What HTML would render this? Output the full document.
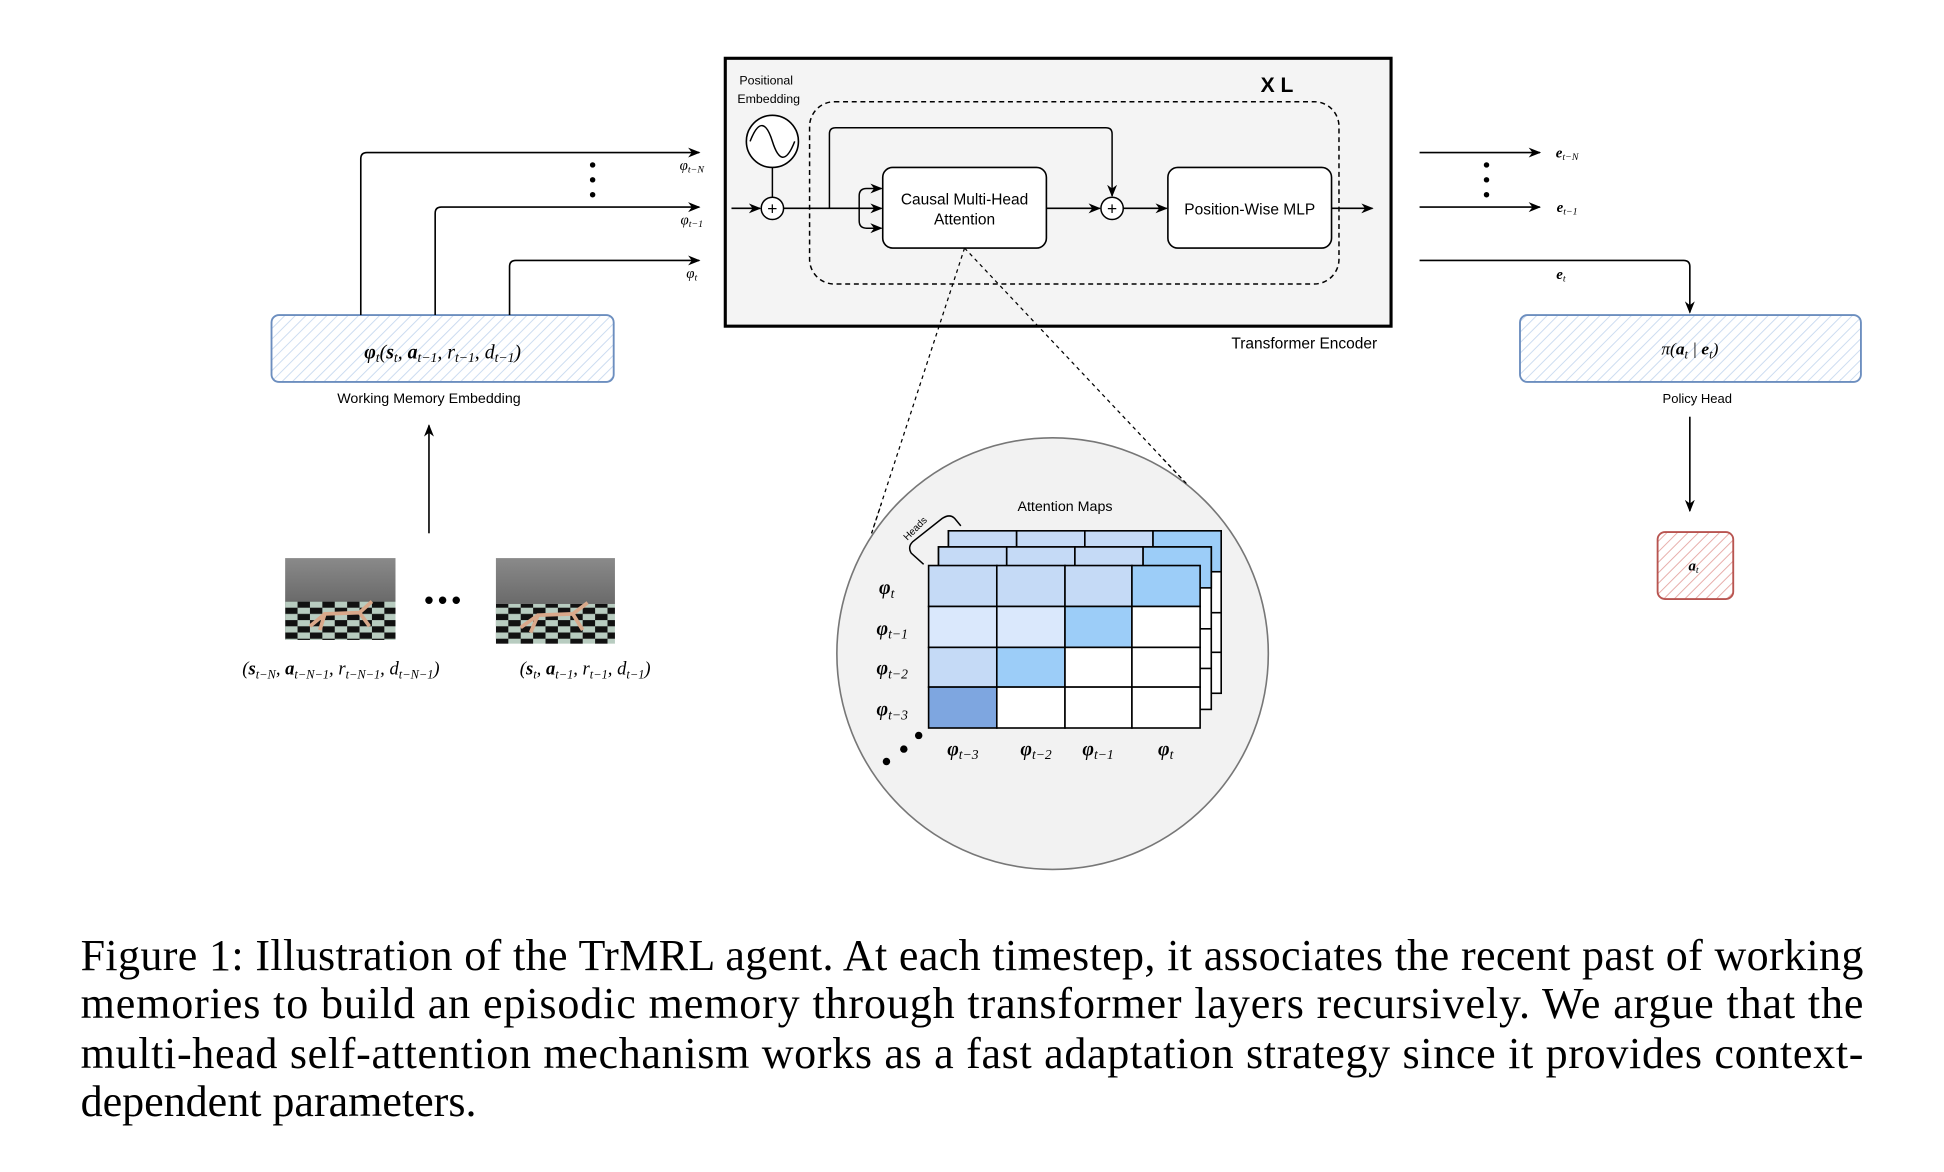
<!DOCTYPE html>
<html><head><meta charset="utf-8"><style>
html,body{margin:0;padding:0;background:#fff;}
svg{display:block;}
.s{font-family:"Liberation Sans",sans-serif;}
.m{font-family:"Liberation Serif",serif;font-style:italic;}
</style></head><body>
<svg width="1944" height="1172" viewBox="0 0 1568 945" preserveAspectRatio="none" xmlns="http://www.w3.org/2000/svg">
<defs>
<marker id="ar" markerWidth="10" markerHeight="10" refX="9" refY="5" orient="auto" markerUnits="userSpaceOnUse">
<path d="M0,1 L10,5 L0,9 L3,5 Z" fill="#000"/></marker>
<pattern id="hb" width="6" height="6" patternUnits="userSpaceOnUse" patternTransform="rotate(45)">
<rect width="6" height="6" fill="#fff"/><line x1="0" y1="0" x2="0" y2="6" stroke="#c9daf0" stroke-width="1.5"/></pattern>
<pattern id="hr" width="6" height="6" patternUnits="userSpaceOnUse" patternTransform="rotate(45)">
<rect width="6" height="6" fill="#fff"/><line x1="0" y1="0" x2="0" y2="6" stroke="#e6a9a6" stroke-width="1.5"/></pattern>
<linearGradient id="sky" x1="0" y1="0" x2="0" y2="1"><stop offset="0" stop-color="#8a8a8a"/><stop offset="1" stop-color="#6a6a6a"/></linearGradient>
<pattern id="chk" width="20" height="10" patternUnits="userSpaceOnUse"><rect width="20" height="10" fill="#111"/><rect width="10" height="5" fill="#b8ccc0"/><rect x="10" y="5" width="10" height="5" fill="#b8ccc0"/></pattern>
</defs>

<!-- Transformer encoder -->
<rect x="585" y="47" width="537" height="216" fill="#f4f4f4" stroke="#000" stroke-width="2.5"/>
<text class="s" x="618" y="68" font-size="10" text-anchor="middle">Positional</text>
<text class="s" x="620" y="83" font-size="10" text-anchor="middle">Embedding</text>
<circle cx="623" cy="114" r="21" fill="#fff" stroke="#000" stroke-width="1.3"/>
<path d="M605,114 C612,96 618,98 623,114 C628,130 634,132 641,114" fill="none" stroke="#000" stroke-width="1.2"/>
<line x1="623" y1="135" x2="623" y2="159" stroke="#000" stroke-width="1.2"/>
<rect x="653" y="82" width="427" height="147" rx="20" fill="none" stroke="#000" stroke-width="1.2" stroke-dasharray="4,3"/>
<text class="s" x="1030" y="74" font-size="17" font-weight="bold" text-anchor="middle">X  L</text>
<line x1="590" y1="168" x2="613" y2="168" stroke="#000" stroke-width="1.3" marker-end="url(#ar)"/>
<circle cx="623" cy="168" r="9" fill="#fff" stroke="#000" stroke-width="1.2"/>
<text class="s" x="623" y="173" font-size="14" text-anchor="middle">+</text>
<line x1="632" y1="168" x2="711" y2="168" stroke="#000" stroke-width="1.3" marker-end="url(#ar)"/>
<path d="M693,168 L693,158 Q693,152 699,152 L711,152" fill="none" stroke="#000" stroke-width="1.2" marker-end="url(#ar)"/>
<path d="M693,168 L693,178 Q693,184 699,184 L711,184" fill="none" stroke="#000" stroke-width="1.2" marker-end="url(#ar)"/>
<path d="M669,168 L669,108 Q669,103 674,103 L892,103 Q897,103 897,108 L897,158" fill="none" stroke="#000" stroke-width="1.2" marker-end="url(#ar)"/>
<rect x="712" y="135" width="132" height="65" rx="8" fill="#fff" stroke="#000" stroke-width="1.3"/>
<text class="s" x="778" y="165" font-size="12.5" text-anchor="middle">Causal Multi-Head</text>
<text class="s" x="778" y="181" font-size="12.5" text-anchor="middle">Attention</text>
<line x1="844" y1="168" x2="887" y2="168" stroke="#000" stroke-width="1.3" marker-end="url(#ar)"/>
<circle cx="897" cy="168" r="9" fill="#fff" stroke="#000" stroke-width="1.2"/>
<text class="s" x="897" y="173" font-size="14" text-anchor="middle">+</text>
<line x1="906" y1="168" x2="941" y2="168" stroke="#000" stroke-width="1.3" marker-end="url(#ar)"/>
<rect x="942" y="135" width="132" height="65" rx="8" fill="#fff" stroke="#000" stroke-width="1.3"/>
<text class="s" x="1008" y="173" font-size="12.5" text-anchor="middle">Position-Wise MLP</text>
<line x1="1074" y1="168" x2="1107" y2="168" stroke="#000" stroke-width="1.3" marker-end="url(#ar)"/>
<text class="s" x="1052" y="281" font-size="12.5" text-anchor="middle">Transformer Encoder</text>

<!-- Left -->
<rect x="219" y="254" width="276" height="54" rx="6" fill="url(#hb)" stroke="#6c8ebf" stroke-width="1.5"/>
<text class="m" x="357" y="289" font-size="16" text-anchor="middle"><tspan font-weight="bold">φ</tspan><tspan font-size="11" dy="3">t</tspan><tspan dy="-3">(</tspan><tspan font-weight="bold">s</tspan><tspan font-size="11" dy="3">t</tspan><tspan dy="-3">, </tspan><tspan font-weight="bold">a</tspan><tspan font-size="11" dy="3">t−1</tspan><tspan dy="-3">, r</tspan><tspan font-size="11" dy="3">t−1</tspan><tspan dy="-3">, d</tspan><tspan font-size="11" dy="3">t−1</tspan><tspan dy="-3">)</tspan></text>
<text class="s" x="346" y="325" font-size="11.5" text-anchor="middle">Working Memory Embedding</text>
<path d="M291,254 L291,128 Q291,123 296,123 L564,123" fill="none" stroke="#000" stroke-width="1.3" marker-end="url(#ar)"/>
<path d="M351,254 L351,172 Q351,167 356,167 L564,167" fill="none" stroke="#000" stroke-width="1.3" marker-end="url(#ar)"/>
<path d="M411,254 L411,215 Q411,210 416,210 L564,210" fill="none" stroke="#000" stroke-width="1.3" marker-end="url(#ar)"/>
<text class="m" x="558" y="137" font-size="12" text-anchor="middle">φ<tspan font-size="8" dy="2">t−N</tspan></text>
<text class="m" x="558" y="181" font-size="12" text-anchor="middle">φ<tspan font-size="8" dy="2">t−1</tspan></text>
<text class="m" x="558" y="224" font-size="12" text-anchor="middle">φ<tspan font-size="8" dy="2">t</tspan></text>
<circle cx="478" cy="133" r="2.2"/><circle cx="478" cy="145" r="2.2"/><circle cx="478" cy="157" r="2.2"/>
<line x1="346" y1="430" x2="346" y2="343" stroke="#000" stroke-width="1.3" marker-end="url(#ar)"/>
<rect x="230" y="450" width="89" height="35" fill="url(#sky)"/><rect x="230" y="485" width="89" height="31" fill="url(#chk)"/>
<rect x="400" y="450" width="96" height="37" fill="url(#sky)"/><rect x="400" y="487" width="96" height="32" fill="url(#chk)"/>
<path d="M258,508 L262,495 L290,494 L300,485 M262,495 L250,505 M290,494 L298,505" fill="none" stroke="#d9a88a" stroke-width="3"/>
<path d="M428,510 L434,496 L462,495 L474,486 M434,496 L420,506 M462,495 L470,508" fill="none" stroke="#d9a88a" stroke-width="3"/>
<circle cx="346" cy="484" r="3"/><circle cx="357" cy="484" r="3"/><circle cx="368" cy="484" r="3"/>
<text class="m" x="275" y="544" font-size="15" text-anchor="middle">(<tspan font-weight="bold">s</tspan><tspan font-size="10" dy="3">t−N</tspan><tspan dy="-3">, </tspan><tspan font-weight="bold">a</tspan><tspan font-size="10" dy="3">t−N−1</tspan><tspan dy="-3">, r</tspan><tspan font-size="10" dy="3">t−N−1</tspan><tspan dy="-3">, d</tspan><tspan font-size="10" dy="3">t−N−1</tspan><tspan dy="-3">)</tspan></text>
<text class="m" x="472" y="544" font-size="15" text-anchor="middle">(<tspan font-weight="bold">s</tspan><tspan font-size="10" dy="3">t</tspan><tspan dy="-3">, </tspan><tspan font-weight="bold">a</tspan><tspan font-size="10" dy="3">t−1</tspan><tspan dy="-3">, r</tspan><tspan font-size="10" dy="3">t−1</tspan><tspan dy="-3">, d</tspan><tspan font-size="10" dy="3">t−1</tspan><tspan dy="-3">)</tspan></text>

<!-- Right -->
<line x1="1145" y1="123" x2="1242" y2="123" stroke="#000" stroke-width="1.3" marker-end="url(#ar)"/>
<line x1="1145" y1="167" x2="1242" y2="167" stroke="#000" stroke-width="1.3" marker-end="url(#ar)"/>
<path d="M1145,210 L1358,210 Q1363,210 1363,215 L1363,252" fill="none" stroke="#000" stroke-width="1.3" marker-end="url(#ar)"/>
<text class="m" x="1264" y="127" font-size="12" text-anchor="middle" font-weight="bold">e<tspan font-size="8" dy="2" font-weight="normal">t−N</tspan></text>
<text class="m" x="1264" y="171" font-size="12" text-anchor="middle" font-weight="bold">e<tspan font-size="8" dy="2" font-weight="normal">t−1</tspan></text>
<text class="m" x="1259" y="225" font-size="12" text-anchor="middle" font-weight="bold">e<tspan font-size="8" dy="2" font-weight="normal">t</tspan></text>
<circle cx="1199" cy="133" r="2.2"/><circle cx="1199" cy="145" r="2.2"/><circle cx="1199" cy="157" r="2.2"/>
<rect x="1226" y="254" width="275" height="54" rx="6" fill="url(#hb)" stroke="#6c8ebf" stroke-width="1.5"/>
<text class="m" x="1363" y="286" font-size="14" text-anchor="middle">π(<tspan font-weight="bold">a</tspan><tspan font-size="10" dy="3">t</tspan><tspan dy="-3"> | </tspan><tspan font-weight="bold">e</tspan><tspan font-size="10" dy="3">t</tspan><tspan dy="-3">)</tspan></text>
<text class="s" x="1369" y="325" font-size="10.5" text-anchor="middle">Policy Head</text>
<line x1="1363" y1="336" x2="1363" y2="412" stroke="#000" stroke-width="1.3" marker-end="url(#ar)"/>
<rect x="1337" y="429" width="61" height="54" rx="6" fill="url(#hr)" stroke="#b85450" stroke-width="1.5"/>
<text class="m" x="1366" y="460" font-size="12" text-anchor="middle" font-weight="bold">a<tspan font-size="8" dy="2" font-weight="normal">t</tspan></text>

<!-- Zoom circle -->
<line x1="778" y1="200" x2="703" y2="430" stroke="#000" stroke-width="1" stroke-dasharray="3,3"/>
<line x1="778" y1="200" x2="957" y2="390" stroke="#000" stroke-width="1" stroke-dasharray="3,3"/>
<circle cx="849" cy="527" r="174" fill="#f2f2f2" stroke="#777" stroke-width="1.3"/>
<line x1="703" y1="430" x2="711" y2="406" stroke="#000" stroke-width="1" stroke-dasharray="3,3"/>
<line x1="938" y1="370" x2="957" y2="390" stroke="#000" stroke-width="1" stroke-dasharray="3,3"/>
<text class="s" x="859" y="412" font-size="11.5" text-anchor="middle">Attention Maps</text>
<text class="s" x="740" y="428" font-size="8" transform="rotate(-45 740 428)" text-anchor="middle">Heads</text>
<path d="M745,455 L735,446 Q732,441 736,437 L760,418 Q766,414 770,418 L775,424" fill="none" stroke="#000" stroke-width="1.2"/>
<g stroke="#000" stroke-width="1.3">
<rect x="765" y="428" width="220" height="131" fill="#fff"/>
<rect x="765" y="428" width="55" height="33" fill="#c5daf6"/><rect x="820" y="428" width="55" height="33" fill="#c5daf6"/><rect x="875" y="428" width="55" height="33" fill="#c5daf6"/><rect x="930" y="428" width="55" height="33" fill="#9ccdf8"/>
<line x1="930" y1="494" x2="985" y2="494"/><line x1="930" y1="526" x2="985" y2="526"/>
<rect x="757" y="441" width="220" height="131" fill="#fff"/>
<rect x="757" y="441" width="55" height="33" fill="#c5daf6"/><rect x="812" y="441" width="55" height="33" fill="#c5daf6"/><rect x="867" y="441" width="55" height="33" fill="#c5daf6"/><rect x="922" y="441" width="55" height="33" fill="#9ccdf8"/>
<line x1="922" y1="507" x2="977" y2="507"/><line x1="922" y1="539" x2="977" y2="539"/>
<rect x="749" y="456" width="55" height="33" fill="#c5daf6"/><rect x="804" y="456" width="55" height="33" fill="#c5daf6"/><rect x="859" y="456" width="54" height="33" fill="#c5daf6"/><rect x="913" y="456" width="55" height="33" fill="#9ccdf8"/>
<rect x="749" y="489" width="55" height="33" fill="#dae8fc"/><rect x="804" y="489" width="55" height="33" fill="#dae8fc"/><rect x="859" y="489" width="54" height="33" fill="#9ccdf8"/><rect x="913" y="489" width="55" height="33" fill="#fff"/>
<rect x="749" y="522" width="55" height="32" fill="#c5daf6"/><rect x="804" y="522" width="55" height="32" fill="#9ccdf8"/><rect x="859" y="522" width="54" height="32" fill="#fff"/><rect x="913" y="522" width="55" height="32" fill="#fff"/>
<rect x="749" y="554" width="55" height="33" fill="#7ea6e0"/><rect x="804" y="554" width="55" height="33" fill="#fff"/><rect x="859" y="554" width="54" height="33" fill="#fff"/><rect x="913" y="554" width="55" height="33" fill="#fff"/>
</g>
<g class="m" font-size="16" font-weight="bold">
<text x="709" y="479">φ<tspan font-size="11" dy="3" font-weight="normal">t</tspan></text>
<text x="707" y="512">φ<tspan font-size="11" dy="3" font-weight="normal">t−1</tspan></text>
<text x="707" y="544">φ<tspan font-size="11" dy="3" font-weight="normal">t−2</tspan></text>
<text x="707" y="577">φ<tspan font-size="11" dy="3" font-weight="normal">t−3</tspan></text>
<text x="764" y="609">φ<tspan font-size="11" dy="3" font-weight="normal">t−3</tspan></text>
<text x="823" y="609">φ<tspan font-size="11" dy="3" font-weight="normal">t−2</tspan></text>
<text x="873" y="609">φ<tspan font-size="11" dy="3" font-weight="normal">t−1</tspan></text>
<text x="934" y="609">φ<tspan font-size="11" dy="3" font-weight="normal">t</tspan></text>
</g>
<circle cx="715" cy="614" r="3"/><circle cx="729" cy="604" r="3"/><circle cx="741" cy="593" r="3"/>

<!-- Caption -->
<g font-family="'Liberation Serif',serif" font-size="35.5">
<text x="65" y="782" textLength="1438" lengthAdjust="spacing">Figure 1: Illustration of the TrMRL agent. At each timestep, it associates the recent past of working</text>
<text x="65" y="821" textLength="1438" lengthAdjust="spacing">memories to build an episodic memory through transformer layers recursively.  We argue that the</text>
<text x="65" y="861" textLength="1438" lengthAdjust="spacing">multi-head self-attention mechanism works as a fast adaptation strategy since it provides context-</text>
<text x="65" y="900">dependent parameters.</text>
</g>
</svg>
</body></html>
